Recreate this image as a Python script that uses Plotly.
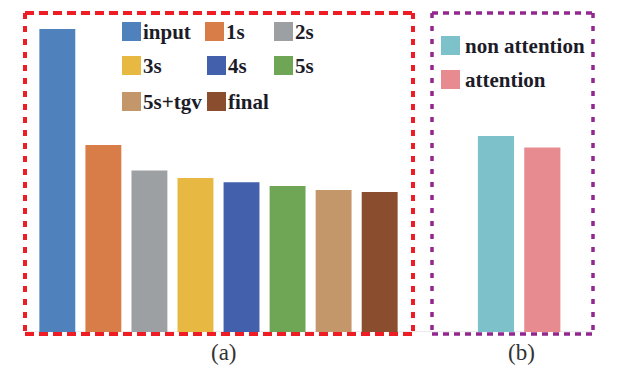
import plotly.graph_objects as go

# ---- data ----
stage_names = ["input", "1s", "2s", "3s", "4s", "5s", "5s+tgv", "final"]
stage_values = [100.0, 61.7, 53.3, 50.8, 49.4, 48.2, 46.9, 46.2]
stage_colors = ["#4f81bd", "#d87d48", "#9da0a3", "#e8b942", "#4360ac", "#6fa656", "#c3976a", "#8a4d2e"]

attn_names = ["non attention", "attention"]
attn_values = [64.7, 60.9]
attn_colors = ["#7dc1cb", "#e88b90"]

panel_labels = ["(a)", "(b)"]

W, H = 617, 372
SERIF = "Times New Roman, Liberation Serif, serif"


def px(x):
    return x / W


def py(y):
    return 1 - y / H


fig = go.Figure()
for n, v, c in zip(stage_names, stage_values, stage_colors):
    fig.add_trace(go.Bar(x=[n], y=[v], name=n, marker=dict(color=c, line=dict(width=0)),
                         xaxis="x", yaxis="y", showlegend=False))
for n, v, c in zip(attn_names, attn_values, attn_colors):
    fig.add_trace(go.Bar(x=[n], y=[v], name=n, marker=dict(color=c, line=dict(width=0)),
                         xaxis="x2", yaxis="y", showlegend=False))

shapes = []
annotations = []

# baseline
shapes.append(dict(type="line", xref="paper", yref="y", x0=px(25), x1=px(593), y0=0, y1=0,
                   line=dict(color="#d9d9d9", width=1), layer="below"))


def dashed_box(x0, x1, y0, y1, color, width, hdash, vdash):
    # horizontal edges
    for yy in (y0, y1):
        shapes.append(dict(type="line", xref="paper", yref="paper", x0=px(x0), x1=px(x1),
                           y0=py(yy), y1=py(yy), line=dict(color=color, width=width, dash=hdash)))
    # vertical edges
    for xx in (x0, x1):
        shapes.append(dict(type="line", xref="paper", yref="paper", x0=px(xx), x1=px(xx),
                           y0=py(y0), y1=py(y1), line=dict(color=color, width=width, dash=vdash)))


dashed_box(25, 413, 13, 334, "#ee1c25", 4, "9px,5px", "6px,7px")
dashed_box(432, 593, 13, 334, "#93278f", 3.5, "6px,5px", "5px,8px")

# manual legend (a)
leg_pos = [(122, 22), (205, 22), (274, 22), (122, 56), (207, 56), (274, 56), (122, 92), (207, 92)]
for (lx, ly), n, c in zip(leg_pos, stage_names, stage_colors):
    shapes.append(dict(type="rect", xref="paper", yref="paper", x0=px(lx), x1=px(lx + 19),
                       y0=py(ly + 19), y1=py(ly), fillcolor=c, line=dict(width=0)))
    annotations.append(dict(text="<b>%s</b>" % n, xref="paper", yref="paper", x=px(lx + 19), y=py(ly + 10),
                            xanchor="left", yanchor="middle", showarrow=False,
                            font=dict(family=SERIF, size=21, color="#1c1c28")))
# legend (b)
leg2_pos = [(441, 36), (441, 70)]
for (lx, ly), n, c in zip(leg2_pos, attn_names, attn_colors):
    shapes.append(dict(type="rect", xref="paper", yref="paper", x0=px(lx), x1=px(lx + 19),
                       y0=py(ly + 19), y1=py(ly), fillcolor=c, line=dict(width=0)))
    annotations.append(dict(text="<b>%s</b>" % n, xref="paper", yref="paper", x=px(lx + 22), y=py(ly + 10),
                            xanchor="left", yanchor="middle", showarrow=False,
                            font=dict(family=SERIF, size=21, color="#1c1c28")))

# panel labels
for lab, cx in zip(panel_labels, [224, 521]):
    annotations.append(dict(text=lab, xref="paper", yref="paper", x=px(cx), y=py(352),
                            xanchor="center", yanchor="middle", showarrow=False,
                            font=dict(family=SERIF, size=23, color="#333333")))

fig.update_layout(
    width=W, height=H,
    margin=dict(l=0, r=0, t=0, b=0),
    paper_bgcolor="white", plot_bgcolor="white",
    bargap=0.22,
    xaxis=dict(domain=[px(34.3), px(402.7)], range=[-0.5, 7.5], showticklabels=False,
               showgrid=False, zeroline=False, showline=False, ticks="", fixedrange=True),
    xaxis2=dict(domain=[px(472.8), px(565.5)], range=[-0.5, 1.5], anchor="y", showticklabels=False,
                showgrid=False, zeroline=False, showline=False, ticks="", fixedrange=True),
    yaxis=dict(domain=[py(332), py(13)], range=[0, 105.3], showticklabels=False, showgrid=False,
               zeroline=False, showline=False, ticks="", fixedrange=True),
    shapes=shapes,
    annotations=annotations,
    showlegend=False,
)

fig.write_html("out.html", config={"displayModeBar": False},
               post_script="document.body.style.margin='0px';document.body.style.padding='0px';")
